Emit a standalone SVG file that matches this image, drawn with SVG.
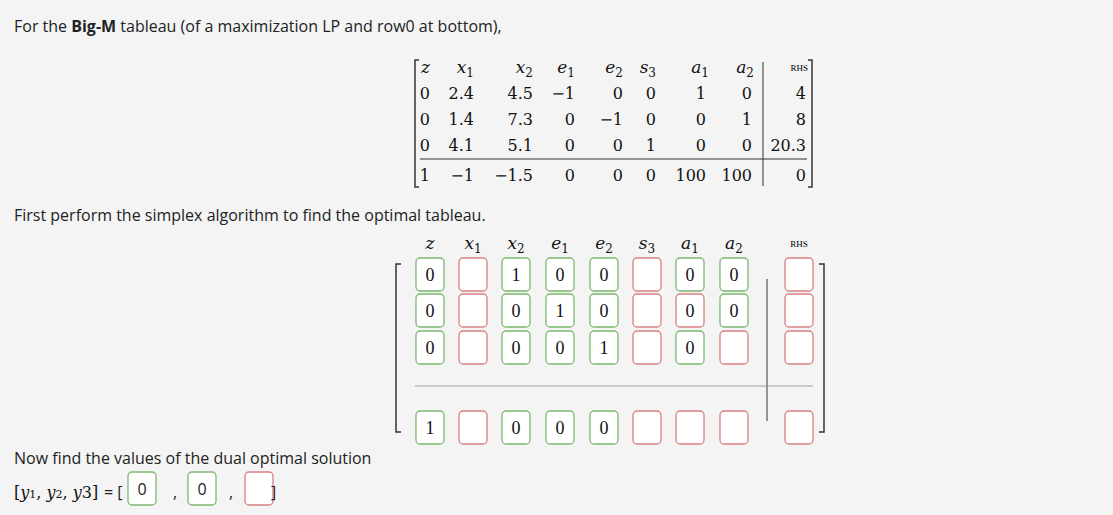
<svg xmlns="http://www.w3.org/2000/svg" width="1113" height="515" viewBox="0 0 1113 515">
<style>
.t{font-family:"Open Sans","Noto Sans",sans-serif;font-size:16px;fill:#222}
.m text{font-family:"DejaVu Serif","Liberation Serif",serif;font-size:16px;fill:#111}
.v text{font-family:"DejaVu Serif","Liberation Serif",serif;font-style:italic;font-size:17px;fill:#111}
.r text{text-anchor:end}
.c text{text-anchor:middle}
.g{fill:#fff;stroke:#7cb86f;stroke-width:1.3}
.x{fill:#fff;stroke:#d98080;stroke-width:1.3}
.b{fill:none;stroke:#333;stroke-width:1.5}
.bt{font-family:"Liberation Serif",serif;font-size:18px;fill:#111;text-anchor:middle}
.s{font-size:12px;font-style:normal}
</style>
<rect width="1113" height="515" fill="#f4f4f4"/>
<text class="t" x="14" y="32">For the <tspan font-weight="bold">Big-M</tspan> tableau (of a maximization LP and row0 at bottom),</text>
<g id="tableau1">
<path class="b" d="M419 60h-4v127h4M808 60h4v127h-4"/>
<line x1="763" y1="62" x2="763" y2="186" stroke="#333"/>
<line x1="420" y1="159" x2="807" y2="159" stroke="#333"/>
<g class="v r"><text x="430" y="73">z</text><text x="474" y="73">x<tspan class="s" dy="4">1</tspan></text><text x="533" y="73">x<tspan class="s" dy="4">2</tspan></text><text x="575" y="73">e<tspan class="s" dy="4">1</tspan></text><text x="623" y="73">e<tspan class="s" dy="4">2</tspan></text><text x="656" y="73">s<tspan class="s" dy="4">3</tspan></text><text x="709" y="73">a<tspan class="s" dy="4">1</tspan></text><text x="754" y="73">a<tspan class="s" dy="4">2</tspan></text></g>
<text x="808" y="71" font-family="Liberation Serif,serif" font-size="9" text-anchor="end">RHS</text>
<g class="m r">
<text x="430" y="99">0</text><text x="474" y="99">2.4</text><text x="533" y="99">4.5</text><text x="575" y="99">−1</text><text x="623" y="99">0</text><text x="656" y="99">0</text><text x="706" y="99">1</text><text x="752" y="99">0</text><text x="806" y="99">4</text>
<text x="430" y="125">0</text><text x="474" y="125">1.4</text><text x="533" y="125">7.3</text><text x="575" y="125">0</text><text x="623" y="125">−1</text><text x="656" y="125">0</text><text x="706" y="125">0</text><text x="752" y="125">1</text><text x="806" y="125">8</text>
<text x="430" y="151">0</text><text x="474" y="151">4.1</text><text x="533" y="151">5.1</text><text x="575" y="151">0</text><text x="623" y="151">0</text><text x="656" y="151">1</text><text x="706" y="151">0</text><text x="752" y="151">0</text><text x="806" y="151">20.3</text>
<text x="430" y="181">1</text><text x="474" y="181">−1</text><text x="533" y="181">−1.5</text><text x="575" y="181">0</text><text x="623" y="181">0</text><text x="656" y="181">0</text><text x="706" y="181">100</text><text x="752" y="181">100</text><text x="806" y="181">0</text>
</g>
</g>
<text class="t" x="14" y="221">First perform the simplex algorithm to find the optimal tableau.</text>
<g id="tableau2">
<g class="v c"><text x="430" y="249">z</text><text x="473" y="249">x<tspan class="s" dy="4">1</tspan></text><text x="516" y="249">x<tspan class="s" dy="4">2</tspan></text><text x="560" y="249">e<tspan class="s" dy="4">1</tspan></text><text x="604" y="249">e<tspan class="s" dy="4">2</tspan></text><text x="647" y="249">s<tspan class="s" dy="4">3</tspan></text><text x="690" y="249">a<tspan class="s" dy="4">1</tspan></text><text x="734" y="249">a<tspan class="s" dy="4">2</tspan></text></g>
<text x="799" y="247" font-family="Liberation Serif,serif" font-size="9" text-anchor="middle">RHS</text>
<path class="b" d="M401 264h-5v168h5M819 264h5v168h-5"/>
<line x1="415" y1="386" x2="813" y2="386" stroke="#bbb" stroke-width="1.5"/>
<line x1="767" y1="279" x2="767" y2="421" stroke="#777" stroke-width="1.5"/>
<g id="cells">
<rect class="g" x="416" y="258" width="28" height="33" rx="4"/><text class="bt" x="430" y="281">0</text>
<rect class="x" x="459" y="258" width="28" height="33" rx="4"/>
<rect class="g" x="502" y="258" width="28" height="33" rx="4"/><text class="bt" x="516" y="281">1</text>
<rect class="g" x="546" y="258" width="28" height="33" rx="4"/><text class="bt" x="560" y="281">0</text>
<rect class="g" x="590" y="258" width="28" height="33" rx="4"/><text class="bt" x="604" y="281">0</text>
<rect class="x" x="633" y="258" width="28" height="33" rx="4"/>
<rect class="g" x="676" y="258" width="28" height="33" rx="4"/><text class="bt" x="690" y="281">0</text>
<rect class="g" x="720" y="258" width="28" height="33" rx="4"/><text class="bt" x="734" y="281">0</text>
<rect class="x" x="785" y="258" width="28" height="33" rx="4"/>
<rect class="g" x="416" y="294" width="28" height="33" rx="4"/><text class="bt" x="430" y="317">0</text>
<rect class="x" x="459" y="294" width="28" height="33" rx="4"/>
<rect class="g" x="502" y="294" width="28" height="33" rx="4"/><text class="bt" x="516" y="317">0</text>
<rect class="g" x="546" y="294" width="28" height="33" rx="4"/><text class="bt" x="560" y="317">1</text>
<rect class="g" x="590" y="294" width="28" height="33" rx="4"/><text class="bt" x="604" y="317">0</text>
<rect class="x" x="633" y="294" width="28" height="33" rx="4"/>
<rect class="x" x="676" y="294" width="28" height="33" rx="4"/><text class="bt" x="690" y="317">0</text>
<rect class="g" x="720" y="294" width="28" height="33" rx="4"/><text class="bt" x="734" y="317">0</text>
<rect class="x" x="785" y="294" width="28" height="33" rx="4"/>
<rect class="g" x="416" y="331" width="28" height="33" rx="4"/><text class="bt" x="430" y="354">0</text>
<rect class="x" x="459" y="331" width="28" height="33" rx="4"/>
<rect class="g" x="502" y="331" width="28" height="33" rx="4"/><text class="bt" x="516" y="354">0</text>
<rect class="g" x="546" y="331" width="28" height="33" rx="4"/><text class="bt" x="560" y="354">0</text>
<rect class="g" x="590" y="331" width="28" height="33" rx="4"/><text class="bt" x="604" y="354">1</text>
<rect class="x" x="633" y="331" width="28" height="33" rx="4"/>
<rect class="g" x="676" y="331" width="28" height="33" rx="4"/><text class="bt" x="690" y="354">0</text>
<rect class="x" x="720" y="331" width="28" height="33" rx="4"/>
<rect class="x" x="785" y="331" width="28" height="33" rx="4"/>
<rect class="g" x="416" y="411" width="28" height="33" rx="4"/><text class="bt" x="430" y="434">1</text>
<rect class="x" x="459" y="411" width="28" height="33" rx="4"/>
<rect class="g" x="502" y="411" width="28" height="33" rx="4"/><text class="bt" x="516" y="434">0</text>
<rect class="g" x="546" y="411" width="28" height="33" rx="4"/><text class="bt" x="560" y="434">0</text>
<rect class="g" x="590" y="411" width="28" height="33" rx="4"/><text class="bt" x="604" y="434">0</text>
<rect class="x" x="633" y="411" width="28" height="33" rx="4"/>
<rect class="x" x="676" y="411" width="28" height="33" rx="4"/>
<rect class="x" x="720" y="411" width="28" height="33" rx="4"/>
<rect class="x" x="785" y="411" width="28" height="33" rx="4"/>
</g>
</g>
<text class="t" x="14" y="464">Now find the values of the dual optimal solution</text>
<g id="dual">
<text x="14" y="498" font-family="DejaVu Serif,serif" font-size="16" fill="#111">[<tspan font-style="italic">y</tspan><tspan font-size="11">1</tspan>, <tspan font-style="italic">y</tspan><tspan font-size="11">2</tspan>, <tspan font-style="italic">y</tspan>3]</text>
<text class="t" x="104" y="498">= [</text>
<rect class="g" x="128" y="472" width="28" height="33" rx="4"/><text class="t" x="142" y="495" font-size="18" text-anchor="middle">0</text>
<text class="t" x="173" y="498">,</text>
<rect class="g" x="188" y="472" width="28" height="33" rx="4"/><text class="t" x="202" y="495" font-size="18" text-anchor="middle">0</text>
<text class="t" x="229" y="498">,</text>
<rect class="x" x="245" y="472" width="28" height="33" rx="4"/>
<text class="t" x="271" y="498">]</text>
</g>
</svg>
